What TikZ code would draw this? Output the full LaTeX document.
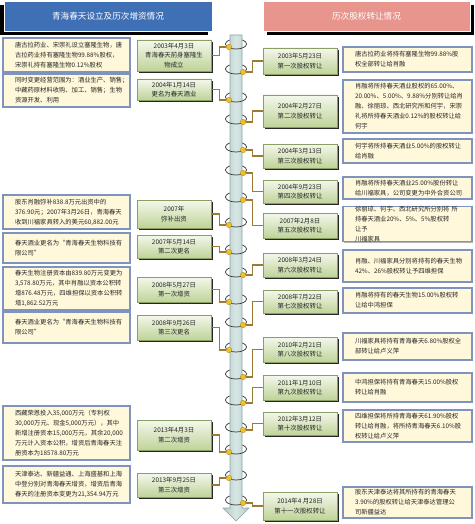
\documentclass[tikz,border=0pt]{standalone}
\usepackage{fontspec}
\newfontfamily\cjk{Noto Sans CJK SC}
\usetikzlibrary{shadows}
\definecolor{descfill}{HTML}{FFF8DA}
\definecolor{descline}{HTML}{7F93BF}
\definecolor{datetop}{HTML}{F4F8EC}
\definecolor{datebot}{HTML}{BFD398}
\definecolor{dateline}{HTML}{8A9F66}
\definecolor{connc}{HTML}{9A7A34}
\definecolor{dotc}{HTML}{F0C028}
\definecolor{tubefill}{HTML}{D6E6E4}
\definecolor{tubeside}{HTML}{B5CBC9}
\definecolor{tubeline}{HTML}{8FA3A3}
\definecolor{hblue}{HTML}{3F70B6}
\definecolor{hpink}{HTML}{E8958E}
\newcommand\dsc[6]{%
  \pgfmathsetmacro\myW{#4-#2}\pgfmathsetmacro\myH{#5-#3}\pgfmathsetmacro\myT{#4-#2-24}%
  \pgfmathsetmacro\myX{(#2+#4)/2}\pgfmathsetmacro\myY{(#3+#5)/2}%
  \node[desc, minimum width=\myW pt, minimum height=\myH pt, text width=\myT pt] (#1) at (\myX,\myY) {#6};}
\newcommand\dtb[6]{%
  \pgfmathsetmacro\myW{#4-#2}\pgfmathsetmacro\myH{#5-#3}%
  \pgfmathsetmacro\myX{(#2+#4)/2}\pgfmathsetmacro\myY{(#3+#5)/2}%
  \node[datebox, minimum width=\myW pt, minimum height=\myH pt] (#1) at (\myX,\myY) {#6};}
\begin{document}
\begin{tikzpicture}[x=1pt,y=-1pt,
  desc/.style={draw=descline, line width=1.1pt, fill=descfill, inner sep=0pt, align=left,
    font={\cjk\fontsize{6.3}{10}\selectfont}, text=black!85,
    drop shadow={shadow xshift=1.2pt, shadow yshift=-1.2pt, fill=black!30, opacity=1}},
  datebox/.style={draw=dateline, line width=0.5pt, top color=datetop, bottom color=datebot,
    inner sep=0pt, align=center, font={\cjk\fontsize{6.4}{9.5}\selectfont}, text=black!85,
    drop shadow={shadow xshift=1.8pt, shadow yshift=-2pt, fill=black!85, opacity=1}},
  conn/.style={draw=connc, line width=1.1pt},
  dotn/.style={circle, fill=dotc, draw=dotc!70!black, line width=0.3pt, inner sep=0pt, minimum size=5.5pt},
  ring/.style={draw=black!80, line width=0.7pt},
  header/.style={draw=white!60, line width=0.5pt, text=white, inner sep=0pt,
    font={\cjk\fontsize{8.6}{10}\selectfont}}]
\useasboundingbox (0,0) rectangle (474,524);
\fill[white] (0,0) rectangle (474,524);

% headers
\node[header, fill=hblue, minimum width=208pt, minimum height=30pt,
  drop shadow={shadow xshift=-4pt, shadow yshift=-4pt, fill=black, opacity=1}] (hl) at (108,16) {青海春天设立及历次增资情况};
\node[header, fill=hpink, minimum width=207pt, minimum height=30pt,
  drop shadow={shadow xshift=4pt, shadow yshift=-4pt, fill=black, opacity=1}] (hr) at (366.5,16) {历次股权转让情况};

% left descriptions
\dsc{D1}{3}{38}{130}{72}{唐古拉药业、宋崇礼设立塞隆生物，唐\\古拉药业持有塞隆生物99.88\%股权，\\宋崇礼持有塞隆生物0.12\%股权}
\dsc{D2}{3}{74}{130}{107}{同时变更经营范围为：酒业生产、销售；\\中藏药原材料收购、加工、销售；生物\\资源开发、利用}
\dsc{D3}{3}{195}{130}{229}{股东肖融弥补838.8万元出资中的\\376.90元；2007年3月26日，青海春天\\收到川福家具转入的美元60,882.00元}
\dsc{D4}{3}{233}{130}{263}{春天酒业更名为“青海春天生物科技有\\限公司”}
\dsc{D5}{3}{267}{130}{310}{春天生物注册资本由839.80万元变更为\\3,578.80万元，其中肖融以资本公积转\\增876.48万元，四维担保以资本公积转\\增1,862.52万元}
\dsc{D6}{3}{312}{130}{343}{春天酒业更名为“青海春天生物科技有\\限公司”}
\dsc{D7}{3}{406}{130}{460}{西藏荣恩投入35,000万元（专利权\\30,000万元、现金5,000万元），其中\\新增注册资本15,000万元，其余20,000\\万元计入资本公积，增资后青海春天注\\册资本为18578.80万元}
\dsc{D8}{3}{466}{130}{503}{天津泰达、新疆益通、上海盛基和上海\\中登分别对青海春天增资，增资后青海\\春天的注册资本变更为21,354.94万元}

% right descriptions
\dsc{E1}{343}{47}{472}{72}{唐古拉药业将持有塞隆生物99.88\%股\\权全部转让给肖融}
\dsc{E2}{343}{80}{472}{133}{肖融将所持春天酒业股权的65.00\%、\\20.00\%、5.00\%、9.88\%分别转让给肖\\融、徐丽琼、西北研究所和何宇，宋崇\\礼将所持春天酒业0.12\%的股权转让给\\何宇}
\dsc{E3}{343}{139}{472}{163}{何宇将所持春天酒业5.00\%的股权转让\\给肖融}
\dsc{E4}{343}{177}{472}{199}{肖融将所持春天酒业25.00\%股份转让\\给川福家具，公司变更为中外合资公司}
\dsc{E5}{343}{208}{472}{240}{徐丽琼、何宇、西北研究所分别将 所\\持春天酒业20\%、5\%、5\%股权转 让予\\川福家具}
\dsc{E6}{343}{250}{472}{282}{肖融、川福家具分别将持有的春天生物\\42\%、26\%股权转让予四维担保}
\dsc{E7}{343}{288}{472}{313}{肖融将持有的春天生物15.00\%股权转\\让给中鸿担保}
\dsc{E8}{343}{333}{472}{360}{川福家具将持有青海春天6.80\%股权全\\部转让给卢义萍}
\dsc{E9}{343}{373}{472}{402}{中鸿担保将持有青海春天15.00\%股权\\转让给肖融}
\dsc{E10}{343}{410}{472}{442}{四维担保将所持青海春天61.90\%股权\\转让给肖融，将所持青海春天6.10\%股\\权转让给卢义萍}
\dsc{E11}{343}{487}{472}{518}{股东天津泰达将其所持有的青海春天\\3.90\%的股权转让给天津泰达管理公\\司新疆益达}

% ring backs
\foreach \y in {47,100,225,252,302,350,452,478,72,122,150,173,200,275,325,377,403,430,503}{
  \draw[ring] (246.5,\y-3) arc[start angle=0,end angle=180,x radius=10.5pt,y radius=5pt];
}
% tube with arrow head
\path[draw=tubeline, line width=0.6pt, left color=tubeside, right color=tubeside, middle color=tubefill]
  (230,35) -- (242,35) -- (242,508) -- (249,508) -- (236,521) -- (223,508) -- (230,508) -- cycle;
% ring fronts
\foreach \y in {47,100,225,252,302,350,452,478,72,122,150,173,200,275,325,377,403,430,503}{
  \draw[ring] (225.5,\y-3) arc[start angle=180,end angle=360,x radius=10.5pt,y radius=5pt];
}

% dots
\node[dotn] (dL1) at (229,47) {};
\node[dotn] (dL2) at (229,100) {};
\node[dotn] (dL3) at (229,225) {};
\node[dotn] (dL4) at (229,252) {};
\node[dotn] (dL5) at (229,302) {};
\node[dotn] (dL6) at (229,350) {};
\node[dotn] (dL7) at (229,452) {};
\node[dotn] (dL8) at (229,478) {};
\node[dotn] (dR1) at (243,72) {};
\node[dotn] (dR2) at (243,122) {};
\node[dotn] (dR3) at (243,150) {};
\node[dotn] (dR4) at (243,173) {};
\node[dotn] (dR5) at (243,200) {};
\node[dotn] (dR6) at (243,275) {};
\node[dotn] (dR7) at (243,325) {};
\node[dotn] (dR8) at (243,377) {};
\node[dotn] (dR9) at (243,403) {};
\node[dotn] (dR10) at (243,430) {};
\node[dotn] (dR11) at (243,503) {};

% left date boxes
\dtb{L1}{137}{40}{211}{71}{2003年4月3日\\青海春天前身塞隆生\\物成立}
\dtb{L2}{137}{79}{211}{100}{2004年1月14日\\更名为春天酒业}
\dtb{L3}{137}{200}{211}{228}{2007年\\弥补出资}
\dtb{L4}{137}{235}{211}{258}{2007年5月14日\\第二次更名}
\dtb{L5}{137}{277}{211}{302}{2008年5月27日\\第一次增资}
\dtb{L6}{137}{315}{211}{340}{2008年9月26日\\第三次更名}
\dtb{L7}{137}{420}{211}{450}{2013年4月3日\\第二次增资}
\dtb{L8}{137}{473}{211}{497}{2013年9月25日\\第三次增资}

% right date boxes
\dtb{R1}{263}{48}{337}{74}{2003年5月23日\\第一次股权转让}
\dtb{R2}{263}{95}{337}{127}{2004年2月27日\\第二次股权转让}
\dtb{R3}{263}{144}{337}{168}{2004年3月13日\\第三次股权转让}
\dtb{R4}{263}{180}{337}{203}{2004年9月23日\\第四次股权转让}
\dtb{R5}{263}{213}{337}{238}{2007年2月8日\\第五次股权转让}
\dtb{R6}{263}{253}{337}{277}{2008年3月24日\\第六次股权转让}
\dtb{R7}{263}{290}{337}{313}{2008年7月22日\\第七次股权转让}
\dtb{R8}{263}{337}{337}{362}{2010年2月21日\\第八次股权转让}
\dtb{R9}{263}{375}{337}{400}{2011年1月10日\\第九次股权转让}
\dtb{R10}{263}{412}{337}{435}{2012年3月12日\\第十次股权转让}
\dtb{R11}{263}{492}{337}{520}{2014年4 月28日\\第十一次股权转让}

% connectors
\foreach \n in {1,...,8}{
  \draw[conn] (L\n.east) -- ++(8,0) |- (dL\n);
}
\foreach \n in {1,...,11}{
  \draw[conn] (R\n.west) -- ++(-10,0) |- (dR\n);
}
\end{tikzpicture}
\end{document}
